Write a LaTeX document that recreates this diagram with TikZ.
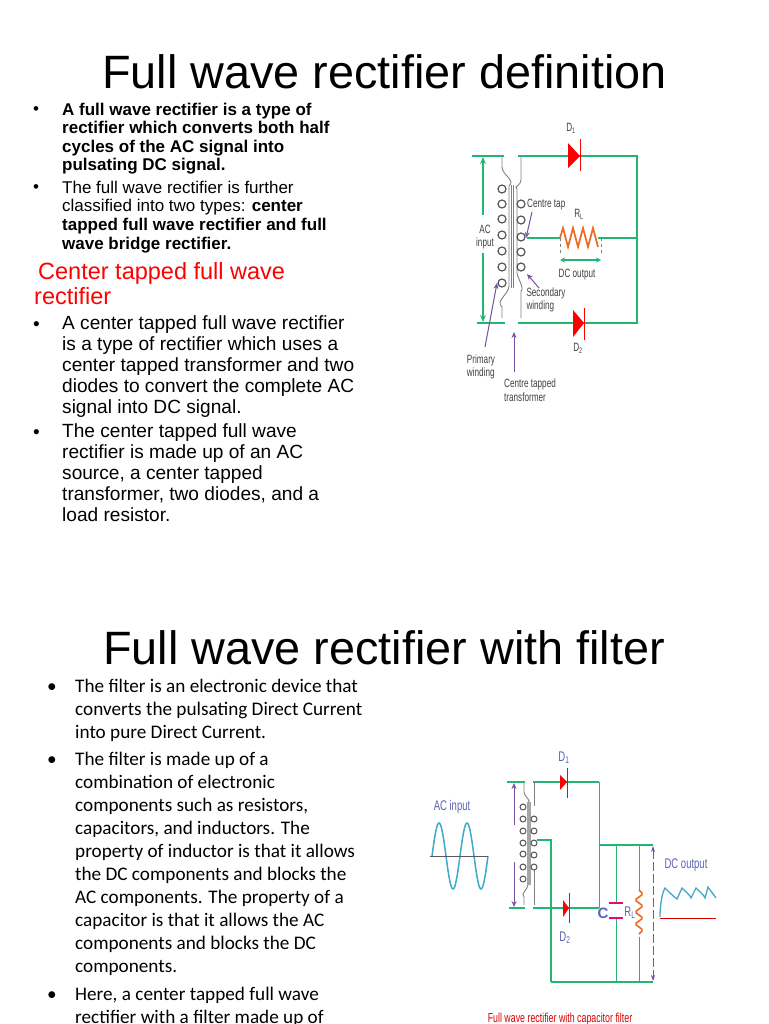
\documentclass[tikz,border=0pt]{standalone}
\usepackage{fontspec}
\setmainfont{Liberation Sans}
\newfontfamily\calibrifont{Carlito}
\newfontfamily\narrowfont[FakeStretch=0.68]{Liberation Sans}
\definecolor{wiregreen}{HTML}{22B573}
\definecolor{coilgray}{HTML}{555555}
\definecolor{leadpurple}{HTML}{7B4FA3}
\definecolor{loadorange}{HTML}{EE6A1F}
\definecolor{labelblue}{HTML}{5A62B8}
\definecolor{sinecyan}{HTML}{3FA9C9}
\tikzset{
  heading/.style={anchor=base west, inner sep=0pt, font=\fontsize{46.8}{50}\selectfont},
  boldtext/.style={anchor=base west, inner sep=0pt, align=left, font=\fontsize{17}{18.6}\selectfont\bfseries},
  smalltext/.style={anchor=base west, inner sep=0pt, align=left, font=\fontsize{17}{18.6}\selectfont},
  redtext/.style={anchor=base west, inner sep=0pt, align=left, red, font=\fontsize{23.5}{24}\selectfont},
  bigtext/.style={anchor=base west, inner sep=0pt, align=left, font=\fontsize{19.1}{20.8}\selectfont},
  caltext/.style={anchor=base west, inner sep=0pt, align=left, font=\fontsize{19.2}{23}\calibrifont},
  circuitlabel/.style={inner sep=0pt, align=center, font=\fontsize{12}{13.5}\narrowfont, black!75},
  bluelabel/.style={inner sep=0pt, align=center, font=\fontsize{14}{15}\narrowfont, labelblue},
  wire/.style={wiregreen, line width=1.8pt},
  thinwire/.style={wiregreen, line width=.9pt},
  lead/.style={gray, line width=.9pt},
  coil/.style={coilgray, line width=1.2pt},
  pointer/.style={leadpurple, line width=1pt, -{Stealth[length=6pt,width=5pt]}},
  diode/.style={red, line width=1pt}
}
\usetikzlibrary{arrows.meta}
\begin{document}
\begin{tikzpicture}[x=1pt, y=-1pt]
  \useasboundingbox (0,0) rectangle (768,1024);
  \clip (0,0) rectangle (768,1024);

  % upper slide text
  \node [heading] (title1) at (102,89) {Full wave rectifier definition};
  \node [smalltext] (b1) at (33,115) {\textbullet};
  \node [boldtext] (text1) at (62,171) {A full wave rectifier is a type of\\rectifier which converts both half\\cycles of the AC signal into\\pulsating DC signal.};
  \node [smalltext] (b2) at (33,193) {\textbullet};
  \node [smalltext] (text2) at (62,249) {The full wave rectifier is further\\classified into two types: \textbf{center}\\\textbf{tapped full wave rectifier and full}\\\textbf{wave bridge rectifier.}};
  \node [redtext] (red1) at (38,279) {Center tapped full wave};
  \node [redtext] (red2) at (34,304) {rectifier};
  \node [bigtext] (b3) at (33,330) {\textbullet};
  \node [bigtext] (text3) at (62,413) {A center tapped full wave rectifier\\is a type of rectifier which uses a\\center tapped transformer and two\\diodes to convert the complete AC\\signal into DC signal.};
  \node [bigtext] (b4) at (33,438) {\textbullet};
  \node [bigtext] (text4) at (62,521) {The center tapped full wave\\rectifier is made up of an AC\\source, a center tapped\\transformer, two diodes, and a\\load resistor.};

  % lower slide text
  \node [heading] (title2) at (103,664) {Full wave rectifier with filter};
  \node [caltext] (b5) at (47,692) {\textbullet};
  \node [caltext] (text5) at (75,738) {The filter is an electronic device that\\converts the pulsating Direct Current\\into pure Direct Current.};
  \node [caltext] (b6) at (47,765) {\textbullet};
  \node [caltext] (text6) at (75,972) {The filter is made up of a\\combination of electronic\\components such as resistors,\\capacitors, and inductors. The\\property of inductor is that it allows\\the DC components and blocks the\\AC components. The property of a\\capacitor is that it allows the AC\\components and blocks the DC\\components.};
  \node [caltext] (b7) at (47,1000) {\textbullet};
  \node [caltext] (text7) at (75,1023) {Here, a center tapped full wave\\rectifier with a filter made up of};

  % upper circuit
  \coordinate (pt) at (472,156);
  \coordinate (pb) at (477,323);
  \coordinate (pta) at (504,156);
  \coordinate (pba) at (505,323);
  \coordinate (st) at (518,156);
  \coordinate (sb) at (518,323);
  \coordinate (rt) at (637,156);
  \coordinate (rb) at (637,323);
  \coordinate (rm) at (637,238);
  \coordinate (tap) at (527,238);
  \coordinate (ra) at (560,238);
  \coordinate (rc) at (598,238);
  \draw [wire] (pt) -- (pta);
  \draw [wire] (pb) -- (pba);
  \draw [wire] (st) -- (rt) -- (rb) -- (sb);
  \draw [wire] (tap) -- (ra);
  \draw [wire] (rc) -- (rm);
  \fill [red] (568,143) -- (580,156) -- (568,168) -- cycle;
  \draw [diode] (580,139) -- (580,171);
  \fill [red] (573,310) -- (584,323) -- (573,337) -- cycle;
  \draw [diode] (584,308) -- (584,340);
  \draw [lead] (502,156) -- ++(0,11) .. controls ++(0,8) and ++(7,-6) .. (509,186) -- ++(0,100) .. controls ++(0,8) and ++(-7,-6) .. (502,307) -- (502,318);
  \draw [lead] (521,156) -- ++(0,24) .. controls ++(0,6) and ++(-4,-3) .. (517,189) -- ++(0,84) .. controls ++(0,4) and ++(4,-2) .. (521,291) -- (521,318);
  \draw [lead] (511,185) -- ++(0,103);
  \draw [lead] (513.5,185) -- ++(0,103);
  \draw [coil] (502,189) circle (4pt) (502,204) circle (4pt) (502,219) circle (4pt) (502,235) circle (4pt) (502,251) circle (4pt) (502,267) circle (4pt) (502,283) circle (4pt);
  \draw [coil] (521,204) circle (4pt) (521,220) circle (4pt) (521,237) circle (4pt) (521,252) circle (4pt) (521,267) circle (4pt);
  \draw [loadorange, line width=1.7pt] (ra) -- ++(3,-10) -- ++(5,19) -- ++(5,-19) -- ++(5,19) -- ++(5,-19) -- ++(5,19) -- ++(5,-19) -- ++(5,19);
  \draw [gray, dashed, line width=.8pt] (ra) -- ++(0,18);
  \draw [gray, dashed, line width=.8pt] (601,238) -- ++(0,18);
  \node [circuitlabel] (acin) at (485,237) {AC\\input};
  \coordinate (acu) at (483,215);
  \coordinate (acd) at (483,253);
  \coordinate (acut) at (483,157);
  \coordinate (acdb) at (483,322);
  \draw [wiregreen, line width=1.2pt, -{Stealth[length=7pt,width=6pt]}] (acu) -- (acut);
  \draw [wiregreen, line width=1.2pt, -{Stealth[length=7pt,width=6pt]}] (acd) -- (acdb);
  \coordinate (dcl) at (560,260);
  \coordinate (dcr) at (601,260);
  \draw [wiregreen, line width=1.2pt, {Stealth[length=5pt,width=5pt]}-{Stealth[length=5pt,width=5pt]}] (dcl) -- (dcr);
  \node [circuitlabel] (dc1) at (577,275) {DC output};
  \node [circuitlabel] (rl1) at (579,214) {R\textsubscript{L}};
  \node [circuitlabel] (d1a) at (571,128) {D\textsubscript{1}};
  \node [circuitlabel] (d2a) at (578,348) {D\textsubscript{2}};
  \node [circuitlabel, anchor=west] (ctap) at (527,205) {Centre tap};
  \node [circuitlabel, align=left] (swind) at (546,300) {Secondary\\winding};
  \node [circuitlabel, align=left] (pwind) at (481,367) {Primary\\winding};
  \node [circuitlabel, align=left] (ctrans) at (530,390) {Centre tapped\\transformer};
  \coordinate (tapp) at (526,238);
  \coordinate (secp) at (527,274);
  \coordinate (prip) at (497,283);
  \coordinate (trap) at (514,332);
  \draw [pointer] (532,212) -- (tapp);
  \draw [pointer] (539,288) -- (secp);
  \draw [pointer] (485,347) -- (prip);
  \draw [pointer] (514,372) -- (trap);

  % lower circuit
  \coordinate (lpt) at (507,782);
  \coordinate (lpta) at (525,782);
  \coordinate (lst) at (533,782);
  \coordinate (lrt) at (599,782);
  \coordinate (lpb) at (509,908);
  \coordinate (lpba) at (525,908);
  \coordinate (lsb) at (533,908);
  \coordinate (lrb) at (599,908);
  \coordinate (ljn) at (599,845);
  \coordinate (lout) at (653,845);
  \coordinate (ltap) at (537,840);
  \coordinate (ltd) at (551,840);
  \coordinate (lbot) at (551,982);
  \coordinate (lbr) at (653,982);
  \draw [wire] (lpt) -- (lpta);
  \draw [wire] (lst) -- (lrt);
  \draw [wire] (lpb) -- (lpba);
  \draw [wire] (lsb) -- (lrb);
  \draw [thinwire] (lrt) -- (lrb);
  \draw [wire, line width=1.2pt] (ljn) -- (lout);
  \draw [wire, line width=1.2pt] (ltap) -- (ltd) -- (lbot);
  \draw [wire] (lbot) -- (lbr);
  \draw [thinwire] (616,845) -- (616,903);
  \draw [thinwire] (616,918) -- (616,982);
  \draw [thinwire] (639,845) -- (639,890);
  \draw [thinwire] (639,937) -- (639,982);
  \draw [magenta!80!red, line width=1.6pt] (609,903) -- ++(14,0);
  \draw [magenta!80!red, line width=1.6pt] (609,918) -- ++(14,0);
  \draw [loadorange, line width=1.6pt, rounded corners=1.5pt] (639,890) -- ++(4,4) -- ++(-8,6) -- ++(8,6) -- ++(-8,6) -- ++(8,6) -- ++(-8,6) -- ++(8,6) -- ++(-4,4);
  \fill [red] (560,775) -- (567,782) -- (560,790) -- cycle;
  \draw [diode] (567,768) -- (567,798);
  \fill [red] (563,900) -- (569,908) -- (563,917) -- cycle;
  \draw [diode] (569,893) -- (569,923);
  \draw [lead] (524,782) -- ++(0,10) .. controls ++(0,5) and ++(4,-3) .. (528,803) -- (528,885) .. controls ++(0,4) and ++(-4,-3) .. (524,897) -- (524,905);
  \draw [lead] (534,782) -- ++(0,24) (534,870) -- (534,905);
  \fill [gray!70] (527,802) rectangle (531,885);
  \draw [coil, line width=1pt] (523,807) circle (3pt) (523,819) circle (3pt) (523,831) circle (3pt) (523,843) circle (3pt) (523,854) circle (3pt) (523,867) circle (3pt) (523,879) circle (3pt);
  \draw [coil, line width=1pt] (534,819) circle (3pt) (534,831) circle (3pt) (534,843) circle (3pt) (534,855) circle (3pt) (534,867) circle (3pt);
  \coordinate (lau) at (514,825);
  \coordinate (laut) at (514,783);
  \coordinate (lad) at (514,862);
  \coordinate (ladb) at (514,907);
  \draw [pointer, line width=.7pt] (lau) -- (laut);
  \draw [pointer, line width=.7pt] (lad) -- (ladb);
  \coordinate (ldt) at (653,846);
  \coordinate (ldb) at (653,981);
  \draw [leadpurple, dash pattern=on 9pt off 3pt, line width=.7pt, {Stealth[length=6pt,width=4pt]}-{Stealth[length=6pt,width=4pt]}] (ldt) -- (ldb);
  \draw [sinecyan, line width=1.5pt, domain=0:56, samples=80] plot ({432+\x}, {856-33*sin(\x/28*360)});
  \draw [gray!70!black, line width=.8pt] (430,856) -- (488,856);
  \draw [sinecyan, line width=1.3pt] (660,917) .. controls (660,905) and (662,893) .. (665,888) .. controls (669,892) and (673,896) .. (677,899) -- (682,888) .. controls (686,892) and (690,895) .. (691,898) -- (696,888) .. controls (700,892) and (704,895) .. (705,898) -- (708,887) -- (716,898);
  \draw [red!85!black, line width=1pt] (660,918) -- (716,918);
  \node [bluelabel] (d1b) at (564,758) {D\textsubscript{1}};
  \node [bluelabel] (d2b) at (565,938) {D\textsubscript{2}};
  \node [bluelabel] (acb) at (452,807) {AC input};
  \node [bluelabel] (dcb) at (686,865) {DC output};
  \node [bluelabel, font=\fontsize{15}{15}\selectfont\bfseries] (cb) at (603,913) {C};
  \node [bluelabel] (rlb) at (630,913) {R\textsubscript{L}};
  \node [inner sep=0pt, text=red!85!black, font=\fontsize{13}{14}\narrowfont] (capt) at (560,1019) {Full wave rectifier with capacitor filter};
\end{tikzpicture}
\end{document}
